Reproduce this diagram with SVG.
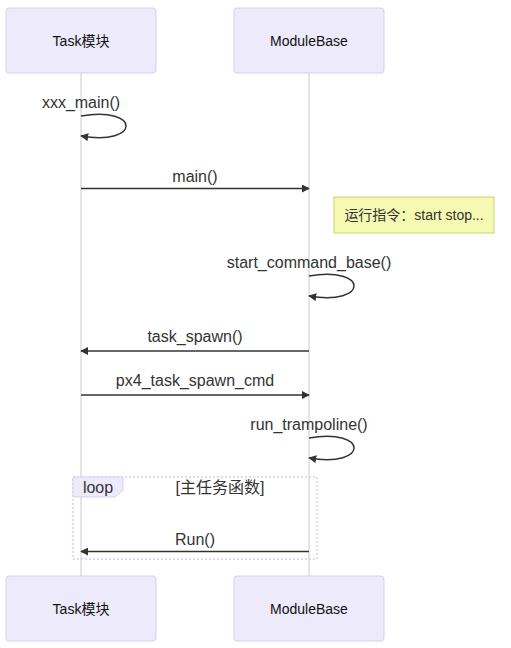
<svg xmlns="http://www.w3.org/2000/svg" width="511" height="648" viewBox="0 0 511 648">
<style>
.actor{fill:#ECEAFB;stroke:#DACEF3;stroke-width:1}
.atext{font-family:"Liberation Sans","Noto Sans CJK SC",Arial,sans-serif;font-size:14px;fill:#111;text-anchor:middle}
.mtext{font-family:"Liberation Sans","Noto Sans CJK SC",Arial,sans-serif;font-size:16px;fill:#333;text-anchor:middle}
.ntext{font-family:"Liberation Sans","Noto Sans CJK SC",Arial,sans-serif;font-size:14px;fill:#333;text-anchor:middle}
.life{stroke:#dcdcdc;stroke-width:1.5}
.msg{stroke:#333;stroke-width:1.5;fill:none}
</style>
<defs>
<marker id="arrow" viewBox="0 0 10 10" refX="9" refY="5" markerWidth="8" markerHeight="8" markerUnits="userSpaceOnUse" orient="auto">
<path d="M0,0 L10,5 L0,10 z" fill="#333"/>
</marker>
</defs>
<rect width="511" height="648" fill="#fff"/>
<g id="lifelines">
<line class="life" x1="81" y1="73" x2="81" y2="576"/>
<line class="life" x1="309" y1="73" x2="309" y2="576"/>
</g>
<g id="loop-block">
<rect x="73" y="477" width="244" height="82" fill="none" stroke="#DACEF3" stroke-width="1.5" stroke-dasharray="2,2"/>
<polygon points="73,477 123,477 123,490 115,497 73,497" fill="#ECEAFB" stroke="#DACEF3" stroke-width="1"/>
<text class="mtext" x="98" y="493">loop</text>
<text class="mtext" x="220" y="493">[主任务函数]</text>
</g>
<g id="actor-task-top">
<rect class="actor" x="6" y="8" width="150" height="65" rx="3"/>
<text class="atext" x="81" y="45.5">Task模块</text>
</g>
<g id="actor-modulebase-top">
<rect class="actor" x="234" y="8" width="150" height="65" rx="3"/>
<text class="atext" x="309" y="45.5">ModuleBase</text>
</g>
<g id="actor-task-bottom">
<rect class="actor" x="6" y="576" width="150" height="65" rx="3"/>
<text class="atext" x="81" y="613.5">Task模块</text>
</g>
<g id="actor-modulebase-bottom">
<rect class="actor" x="234" y="576" width="150" height="65" rx="3"/>
<text class="atext" x="309" y="613.5">ModuleBase</text>
</g>
<g id="note">
<rect x="334" y="197" width="160" height="36" fill="#f6f9b2" stroke="#c9d46c" stroke-width="1"/>
<text class="ntext" x="414" y="220">运行指令：start stop...</text>
</g>
<g id="connectors">
<path class="msg" d="M81,116 C141,106 141,146 81,136" marker-end="url(#arrow)"/>
<line class="msg" x1="81" y1="188.5" x2="309" y2="188.5" marker-end="url(#arrow)"/>
<path class="msg" d="M309,276 C369,266 369,306 309,296" marker-end="url(#arrow)"/>
<line class="msg" x1="309" y1="351" x2="81" y2="351" marker-end="url(#arrow)"/>
<line class="msg" x1="81" y1="395" x2="309" y2="395" marker-end="url(#arrow)"/>
<path class="msg" d="M309,438 C369,428 369,468 309,458" marker-end="url(#arrow)"/>
<line class="msg" x1="309" y1="551.5" x2="81" y2="551.5" marker-end="url(#arrow)"/>
</g>
<g id="labels">
<text class="mtext" x="81" y="108">xxx_main()</text>
<text class="mtext" x="195" y="182">main()</text>
<text class="mtext" x="309" y="268">start_command_base()</text>
<text class="mtext" x="195" y="342">task_spawn()</text>
<text class="mtext" x="195" y="386">px4_task_spawn_cmd</text>
<text class="mtext" x="309" y="430">run_trampoline()</text>
<text class="mtext" x="195" y="545">Run()</text>
</g>
</svg>
